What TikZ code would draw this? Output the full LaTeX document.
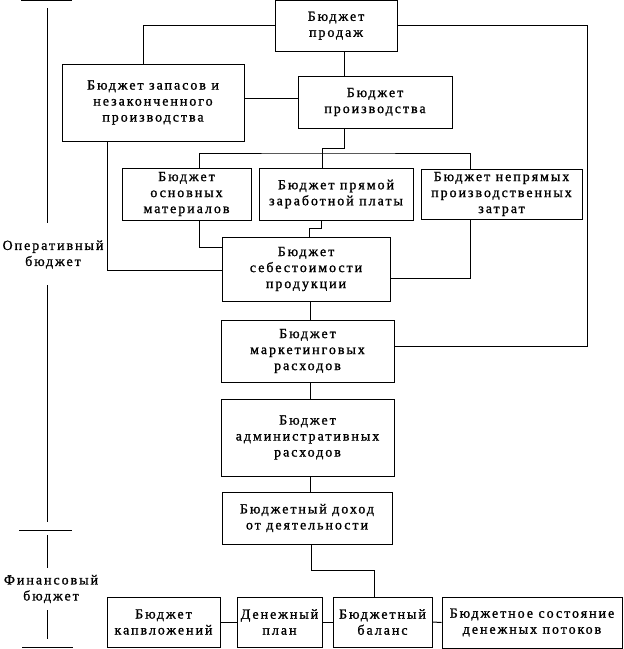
\documentclass[tikz,border=0pt]{standalone}
\usepackage{fontspec}
\setmainfont{Liberation Serif}[LetterSpace=14,FakeBold=1.2]
\begin{document}
\begin{tikzpicture}[x=1pt,y=-1pt, line width=1pt,
  box/.style={draw, rectangle, inner sep=0pt, align=center, font=\fontsize{14}{16}\selectfont},
  lbl/.style={inner sep=0pt, align=center, font=\fontsize{14}{16}\selectfont},
  conn/.style={draw, line width=1pt}]
\useasboundingbox (0,0) rectangle (624,649);

% boxes
\node[box, minimum width=122pt, minimum height=50.5pt] (sales) at (336,25.75) {Бюджет\\продаж};
\node[box, minimum width=182pt, minimum height=77pt] (zap) at (153,102.5) {Бюджет запасов и\\незаконченного\\производства};
\node[box, minimum width=154pt, minimum height=52pt] (prod) at (375,102) {Бюджет\\производства};
\node[box, minimum width=129pt, minimum height=52pt] (osn) at (186.5,194) {Бюджет\\основных\\материалов};
\node[box, minimum width=154pt, minimum height=52pt] (zp) at (336,194) {Бюджет прямой\\заработной платы};
\node[box, minimum width=161pt, minimum height=50pt] (nep) at (501.5,194) {Бюджет непрямых\\производственных\\затрат};
\node[box, minimum width=168pt, minimum height=64pt] (seb) at (306,269) {Бюджет\\себестоимости\\продукции};
\node[box, minimum width=173pt, minimum height=62pt] (mkt) at (307.5,351) {Бюджет\\маркетинговых\\расходов};
\node[box, minimum width=173pt, minimum height=77pt] (adm) at (307.5,437.5) {Бюджет\\административных\\расходов};
\node[box, minimum width=170pt, minimum height=52pt] (inc) at (307,518) {Бюджетный доход\\от деятельности};
\node[box, minimum width=113pt, minimum height=50pt] (kap) at (163.5,622) {Бюджет\\капвложений};
\node[box, minimum width=85pt, minimum height=50pt] (den) at (279.5,622) {Денежный\\план};
\node[box, minimum width=99pt, minimum height=50pt] (bal) at (382.5,622) {Бюджетный\\баланс};
\node[box, minimum width=180pt, minimum height=51pt] (dds) at (532,622.5) {Бюджетное состояние\\денежных потоков};

% side labels
\node[lbl] (oper) at (53,254.5) {Оперативный\\бюджет};
\node[lbl] (fin) at (51,589) {Финансовый\\бюджет};

% side lines
\draw (21,0.5) -- (72,0.5);
\draw (47,8) -- (47,223);
\draw (47,285) -- (47,522);
\draw (19,530) -- (72,530);
\draw (47,535) -- (47,568);
\draw (47,610) -- (47,639);
\draw (22,647) -- (73,647);

% connectors
\coordinate (j0) at (322,148);
\coordinate (j1) at (322,153);
\coordinate (r1) at (587,25.75);
\draw[conn] (sales.west) -| ([xshift=-10pt]zap.north);
\draw[conn] (sales.east) -- (r1) |- ([yshift=5pt]mkt.east);
\draw[conn] ([xshift=8pt]sales.south) -- ([xshift=8pt]sales.south |- prod.north);
\draw[conn] ([yshift=4pt]zap.east) -- ([yshift=4pt]zap.east -| prod.west);
\draw[conn] ([xshift=-31pt]prod.south) |- (j0) -- ([xshift=-14pt]zp.north);
\draw[conn] ([xshift=12.5pt]osn.north) |- (j1) -| ([xshift=-31.5pt]nep.north);
\draw[conn] ([xshift=12.5pt]osn.south) |- ([yshift=22pt]seb.west);
\draw[conn] ([xshift=-15pt]zp.south) -- ++(0,8) -| ([xshift=3pt]seb.north);
\draw[conn] ([xshift=-46pt]zap.south) |- ([yshift=-1pt]seb.west);
\draw[conn] ([xshift=-31.5pt]nep.south) |- ([yshift=-9pt]seb.east);
\draw[conn] ([xshift=4pt]seb.south) -- ([xshift=4pt]seb.south |- mkt.north);
\draw[conn] ([xshift=2.5pt]mkt.south) -- ([xshift=2.5pt]mkt.south |- adm.north);
\draw[conn] ([xshift=2.5pt]adm.south) -- ([xshift=2.5pt]adm.south |- inc.north);
\draw[conn] ([xshift=4pt]inc.south) -- ++(0,26) -| ([xshift=-8.5pt]bal.north);
\draw[conn] (kap.east) -- (den.west);
\draw[conn] (den.east) -- (bal.west);
\draw[conn] (bal.east) -- (dds.west);
\end{tikzpicture}
\end{document}
